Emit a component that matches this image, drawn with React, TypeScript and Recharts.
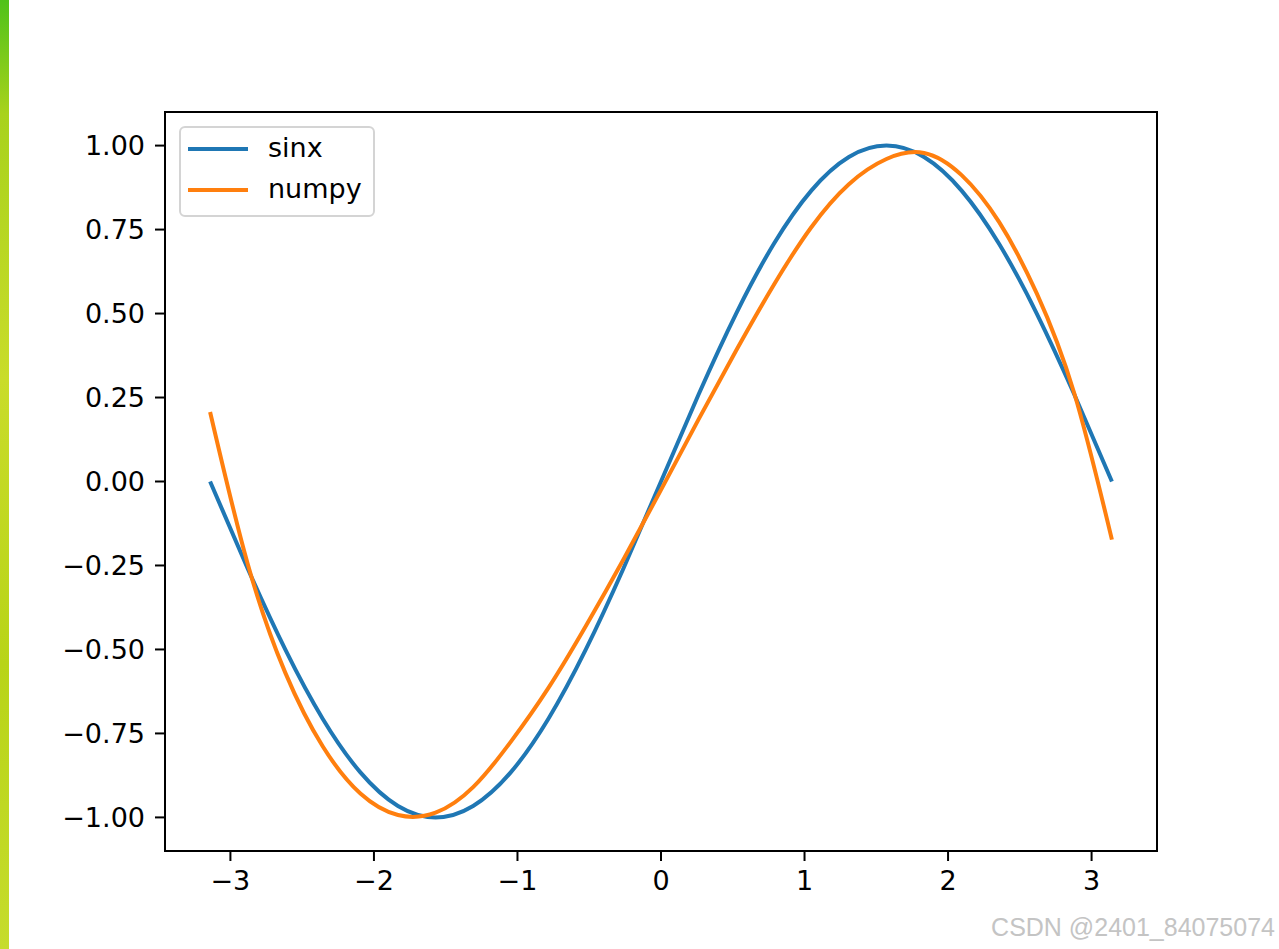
import React from 'react';
import { LineChart, Line, XAxis, YAxis, ReferenceArea } from 'recharts';

const xTicks = [-3, -2, -1, 0, 1, 2, 3];
const yTicks = [-1, -0.75, -0.5, -0.25, 0, 0.25, 0.5, 0.75, 1];
const xDomain = [-3.4558, 3.4558];
const yDomain = [-1.1, 1.1];

const seriesNames = ['sinx', 'numpy'];
const seriesColors = ['#1f77b4', '#ff7f0e'];

const xs = [
  -3.1416, -2.8798, -2.618, -2.3562, -2.0944, -1.8326, -1.5708, -1.309, -1.0472, -0.7854, -0.5236, -0.2618,
  0, 0.2618, 0.5236, 0.7854, 1.0472, 1.309, 1.5708, 1.8326, 2.0944, 2.3562, 2.618, 2.8798, 3.1416,
];
const sinY = [
  0, -0.259, -0.5, -0.707, -0.866, -0.966, -1, -0.966, -0.866, -0.707, -0.5, -0.259,
  0, 0.259, 0.5, 0.707, 0.866, 0.966, 1, 0.966, 0.866, 0.707, 0.5, 0.259, 0,
];
const fitY = [
  0.207, -0.245, -0.569, -0.789, -0.929, -0.993, -0.986, -0.91, -0.775, -0.615, -0.43, -0.232,
  -0.025, 0.185, 0.39, 0.585, 0.757, 0.885, 0.96, 0.978, 0.912, 0.772, 0.56, 0.262, -0.173,
];

const data = xs.map((x, i) => ({ x, sinx: sinY[i], numpy: fitY[i] }));

const FONT = '"DejaVu Sans", sans-serif';
const fmt = (v: number, d: number) => v.toFixed(d).replace('-', '\u2212');

const LegendBox = () => (
  <div
    style={{
      position: 'absolute',
      left: 179,
      top: 126,
      width: 192,
      height: 87,
      border: '2px solid #d4d4d4',
      borderRadius: 6,
      background: 'rgba(255,255,255,0.8)',
      fontFamily: FONT,
      fontSize: 27,
      color: '#000',
    }}
  >
    {seriesNames.map((name, i) => (
      <div key={name} style={{ position: 'absolute', left: 0, top: 3 + i * 41, height: 36, width: 190 }}>
        <svg width={62} height={36} style={{ position: 'absolute', left: 7, top: 0 }}>
          <line x1={0} y1={18} x2={60} y2={18} stroke={seriesColors[i]} strokeWidth={4} />
        </svg>
        <span style={{ position: 'absolute', left: 87, top: 0, lineHeight: '34px' }}>{name}</span>
      </div>
    ))}
  </div>
);

export default function App() {
  return (
    <div style={{ position: 'absolute', left: 0, top: 0, width: 1279, height: 949, background: '#fff', overflow: 'hidden' }}>
      <div
        style={{
          position: 'absolute',
          left: 0,
          top: 0,
          width: 9,
          height: 949,
          background: 'linear-gradient(180deg, #4fc21a 0%, #a8d21c 12%, #c9dc2a 40%, #b8d418 70%, #c6dc2c 100%)',
        }}
      />
      <LineChart
        width={1279}
        height={949}
        data={data}
        margin={{ top: 112, right: 122, bottom: 48, left: 75 }}
        style={{ fontFamily: FONT, position: 'absolute', left: 0, top: 0 }}
      >
        <XAxis
          dataKey="x"
          type="number"
          domain={xDomain}
          ticks={xTicks}
          allowDataOverflow
          height={50}
          axisLine={false}
          tickSize={10}
          tickMargin={10}
          tickLine={{ stroke: '#000', strokeWidth: 2 }}
          tick={{ fill: '#000', fontSize: 27, fontFamily: FONT }}
          tickFormatter={(v: number) => fmt(v, 0)}
        />
        <YAxis
          type="number"
          domain={yDomain}
          ticks={yTicks}
          allowDataOverflow
          width={90}
          axisLine={false}
          tickSize={10}
          tickMargin={10}
          tickLine={{ stroke: '#000', strokeWidth: 2 }}
          tick={{ fill: '#000', fontSize: 27, fontFamily: FONT }}
          tickFormatter={(v: number) => fmt(v, 2)}
        />
        <ReferenceArea
          x1={xDomain[0]}
          x2={xDomain[1]}
          y1={yDomain[0]}
          y2={yDomain[1]}
          fill="none"
          fillOpacity={0}
          stroke="#000"
          strokeWidth={2}
          ifOverflow="visible"
        />
        {seriesNames.map((name, i) => (
          <Line
            key={name}
            dataKey={name}
            name={name}
            type="natural"
            stroke={seriesColors[i]}
            strokeWidth={4}
            dot={false}
            activeDot={false}
            isAnimationActive={false}
          />
        ))}
      </LineChart>
      <LegendBox />
      <div
        style={{
          position: 'absolute',
          right: 4,
          top: 913,
          fontFamily: '"Liberation Sans", Arial, sans-serif',
          fontSize: 25,
          color: '#c4c4c4',
          whiteSpace: 'nowrap',
        }}
      >
        CSDN @2401_84075074
      </div>
    </div>
  );
}
